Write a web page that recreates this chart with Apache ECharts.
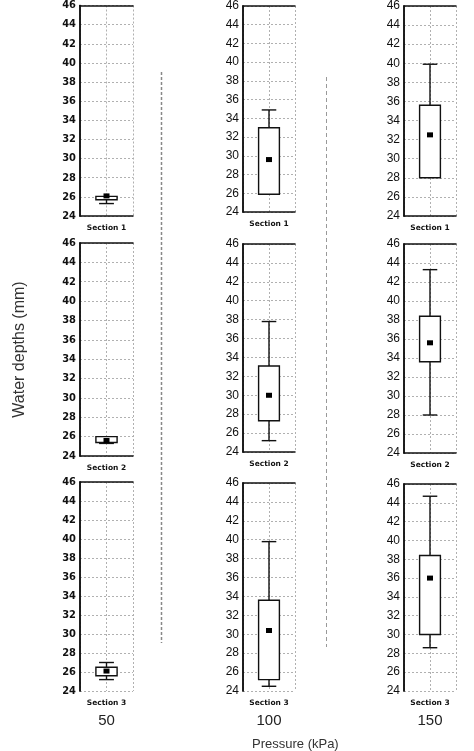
<!DOCTYPE html>
<html>
<head>
<meta charset="utf-8">
<script src="https://cdn.jsdelivr.net/npm/echarts@6/dist/echarts.min.js"></script>
<style>
  html, body { margin: 0; padding: 0; background: #fff; }
  #chart { width: 474px; height: 751px; }
</style>
</head>
<body>
<div id="chart"></div>
<script>
// one entry per pressure, inner arrays are Section 1..3
const pressures = ['50', '100', '150'];
const sections = ['Section 1', 'Section 2', 'Section 3'];
const whiskerMin = [[25.3, 25.3, 25.2], [25.9, 25.2, 24.5], [28.0, 28.0, 28.6]];
const boxLow     = [[25.7, 25.4, 25.6], [25.9, 27.3, 25.2], [28.0, 33.6, 30.0]];
const boxHigh    = [[26.05, 26.0, 26.5], [33.0, 33.1, 33.6], [35.6, 38.4, 38.4]];
const whiskerMax = [[26.1, 26.0, 27.0], [34.9, 37.8, 39.8], [39.9, 43.3, 44.7]];
const centre     = [[26.1, 25.6, 26.1], [29.6, 30.0, 30.4], [32.5, 35.6, 36.0]];
const yMin = 24, yMax = 46, yStep = 2;

// panel boxes [left, top, width, height], same order as the data
const panels = [
  [[80, 3, 53, 213], [80, 243, 53, 213], [80, 482, 53, 209]],
  [[243, 5, 52, 207], [243, 244, 52, 208], [243, 483, 52, 208]],
  [[404, 5, 52, 211], [404, 244, 52, 209], [404, 484, 52, 207]]
];

const frame = { show: true, lineStyle: { color: '#111', width: 1.5 } };
const dotted = { show: true, lineStyle: { color: '#b0b0b0', type: [2, 2], width: 1 } };

const grid = [], xAxis = [], yAxis = [], series = [];

pressures.forEach((p, pi) => {
  sections.forEach((sec, si) => {
    const [left, top, width, height] = panels[pi][si];
    const g = grid.length;
    const lastRow = si === 2;
    grid.push({ left, top, width, height, show: false });

    xAxis.push({
      type: 'value', gridIndex: g, min: 0, max: 2, interval: 1, position: 'bottom',
      axisLine: lastRow ? { show: false } : frame,
      axisTick: { show: false },
      splitLine: dotted,
      axisLabel: {
        formatter: v => (v === 1 ? sec : ''),
        fontFamily: 'DejaVu Sans', fontWeight: 'bold', fontSize: 7.5, color: '#111', margin: 8
      },
      name: lastRow ? p : '',
      nameLocation: 'middle', nameGap: 22,
      nameTextStyle: { fontFamily: 'Liberation Sans', fontSize: 15, color: '#222' }
    });
    xAxis.push({
      type: 'value', gridIndex: g, min: 0, max: 2, position: 'top',
      axisLine: frame, axisTick: { show: false }, axisLabel: { show: false }, splitLine: { show: false }
    });

    const narrow = pi === 0;
    yAxis.push({
      type: 'value', gridIndex: g, min: yMin, max: yMax, interval: yStep, position: 'left',
      axisLine: frame, axisTick: { show: false },
      splitLine: dotted,
      axisLabel: {
        margin: 4, color: '#111',
        fontFamily: narrow ? 'DejaVu Sans Condensed' : 'Liberation Sans',
        fontWeight: narrow ? 'bold' : 'normal',
        fontSize: narrow ? 11 : 12
      },
      name: pi === 0 && si === 1 ? 'Water depths (mm)' : '',
      nameLocation: 'middle', nameRotate: 90, nameGap: 52,
      nameTextStyle: { fontFamily: 'Liberation Sans', fontSize: 16, color: '#333' }
    });
    yAxis.push({
      type: 'value', gridIndex: g, min: yMin, max: yMax, position: 'right',
      axisLine: frame, axisTick: { show: false }, axisLabel: { show: false }, splitLine: { show: false }
    });

    series.push({
      type: 'custom',
      xAxisIndex: 2 * g, yAxisIndex: 2 * g,
      data: [[1, whiskerMin[pi][si], boxLow[pi][si], boxHigh[pi][si], whiskerMax[pi][si], centre[pi][si]]],
      renderItem: (params, api) => {
        const x = api.value(0);
        const unit = api.size([1, 0])[0];
        const pLo = api.coord([x, api.value(1)]);
        const pQ1 = api.coord([x, api.value(2)]);
        const pQ3 = api.coord([x, api.value(3)]);
        const pHi = api.coord([x, api.value(4)]);
        const pC = api.coord([x, api.value(5)]);
        const cx = pQ1[0];
        const bw = unit * 0.4, cw = unit * 0.28;
        const st = { stroke: '#111', lineWidth: 1.4, fill: null };
        const kids = [];
        if (pLo[1] - pQ1[1] > 0.5) {
          kids.push({ type: 'line', shape: { x1: cx, y1: pQ1[1], x2: cx, y2: pLo[1] }, style: st });
          kids.push({ type: 'line', shape: { x1: cx - cw, y1: pLo[1], x2: cx + cw, y2: pLo[1] }, style: st });
        }
        if (pQ3[1] - pHi[1] > 0.5) {
          kids.push({ type: 'line', shape: { x1: cx, y1: pQ3[1], x2: cx, y2: pHi[1] }, style: st });
          kids.push({ type: 'line', shape: { x1: cx - cw, y1: pHi[1], x2: cx + cw, y2: pHi[1] }, style: st });
        }
        kids.push({
          type: 'rect',
          shape: { x: cx - bw, y: pQ3[1], width: 2 * bw, height: Math.max(pQ1[1] - pQ3[1], 1) },
          style: { stroke: '#111', lineWidth: 1.4, fill: '#fff' }
        });
        kids.push({
          type: 'rect',
          shape: { x: pC[0] - 3, y: pC[1] - 2.5, width: 6, height: 5 },
          style: { fill: '#000' }
        });
        return { type: 'group', children: kids };
      },
      z: 5
    });
  });
});

const chart = echarts.init(document.getElementById('chart'), null, { renderer: 'canvas' });
chart.setOption({
  animation: false,
  backgroundColor: '#fff',
  title: {
    text: 'Pressure (kPa)', left: 247, top: 733,
    textStyle: { fontFamily: 'Liberation Sans', fontSize: 13, fontWeight: 'normal', color: '#333' }
  },
  grid, xAxis, yAxis, series,
  graphic: [
    { type: 'line', shape: { x1: 161.5, y1: 72, x2: 161.5, y2: 643 },
      style: { stroke: '#888', lineWidth: 1.5, lineDash: [3, 2] } },
    { type: 'line', shape: { x1: 326.5, y1: 77, x2: 326.5, y2: 647 },
      style: { stroke: '#999', lineWidth: 1, lineDash: [4, 3] } }
  ]
});
</script>
</body>
</html>
